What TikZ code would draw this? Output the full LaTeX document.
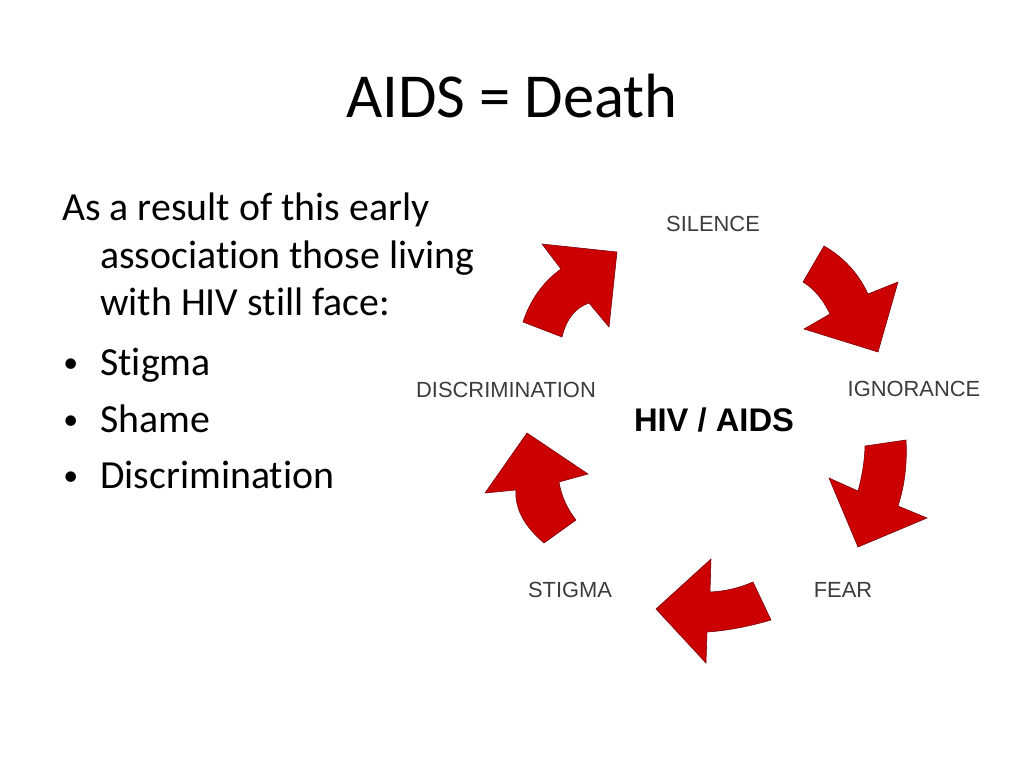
\documentclass[tikz,border=0pt]{standalone}
\usepackage{fontspec}
\usetikzlibrary{calc}
\setmainfont[Ligatures=NoCommon]{Carlito}
\newfontfamily\diagfont{Liberation Sans}
\definecolor{arrowred}{RGB}{204,0,0}
\definecolor{arrowedge}{RGB}{120,0,10}
\definecolor{labelgray}{RGB}{60,60,60}
% quadratic-like curve helper: from current point A with control C to B
\newcommand{\qc}[3]{.. controls ($(#1)!0.6667!(#2)$) and ($(#3)!0.6667!(#2)$) .. (#3)}
\begin{document}
\begin{tikzpicture}[x=0.703125pt,y=-0.703125pt,
  cyclearrow/.style={fill=arrowred,draw=arrowedge,line width=0.4pt,line join=miter},
  steplabel/.style={inner sep=0pt,anchor=base,font=\diagfont\fontsize{15.4}{18}\selectfont,text=labelgray},
  bodyline/.style={inner sep=0pt,anchor=base west,font=\fontsize{28}{33.6}\selectfont},
  bulletmark/.style={inner sep=0pt,anchor=base west,font=\fontsize{21}{25}\selectfont}]
\useasboundingbox[fill=white] (0,0) rectangle (1024,768);
% title
\node[inner sep=0pt,anchor=base,font=\fontsize{44}{52}\selectfont] (title) at (512,118) {AIDS = Death};
% body
\node[bodyline] (l1) at (62,221) {As a result of this early};
\node[bodyline] (l2) at (100,269) {association those living};
\node[bodyline] (l3) at (100,316) {with HIV still face:};
\node[bulletmark] (b1) at (63,372) {•};
\node[bodyline] (s1) at (100,375) {Stigma};
\node[bulletmark] (b2) at (63,429) {•};
\node[bodyline] (s2) at (100,432) {Shame};
\node[bulletmark] (b3) at (63,485) {•};
\node[bodyline] (s3) at (100,488) {Discrimination};
% cycle labels
\node[steplabel] (silence) at (713,232) {SILENCE};
\node[steplabel] (ignorance) at (914,396) {IGNORANCE};
\node[steplabel] (fear) at (843,597) {FEAR};
\node[steplabel] (stigma) at (570,597) {STIGMA};
\node[steplabel] (discr) at (506,397) {DISCRIMINATION};
\node[inner sep=0pt,anchor=base,font=\diagfont\bfseries\fontsize{23}{27}\selectfont] (hiv) at (714,431) {HIV / AIDS};
% arrows
% discrimination -> silence
\draw[cyclearrow] (561,269) \qc{561,269}{534,288.5}{523,322} -- (562,337)
  \qc{562,337}{568.5,310}{589,303} -- (609,327) -- (617,252) -- (542,244) -- cycle;
% silence -> ignorance
\draw[cyclearrow] (824,246) -- (803,282) \qc{803,282}{819.5,292}{830,314} -- (804,329)
  -- (878,352) -- (898,282) -- (868,294) \qc{868,294}{853.5,263}{824,246} -- cycle;
% ignorance -> fear
\draw[cyclearrow] (865,446) -- (906,440) \qc{906,440}{908,475}{898,506} -- (927,518)
  -- (858,547) -- (829,478) -- (858,491) \qc{858,491}{864.5,467.5}{865,446} -- cycle;
% fear -> stigma
\draw[cyclearrow] (656,609) -- (711,559) -- (710,592) \qc{710,592}{732.5,591}{753,582}
  -- (771,620) \qc{771,620}{737,630}{707,632} -- (706,663) -- cycle;
% stigma -> discrimination
\draw[cyclearrow] (527,433) -- (588,474) -- (559,482) \qc{559,482}{562.5,503}{576,520}
  -- (544,543) \qc{544,543}{514,517.5}{516,490} -- (485,493) -- cycle;
\end{tikzpicture}
\end{document}
